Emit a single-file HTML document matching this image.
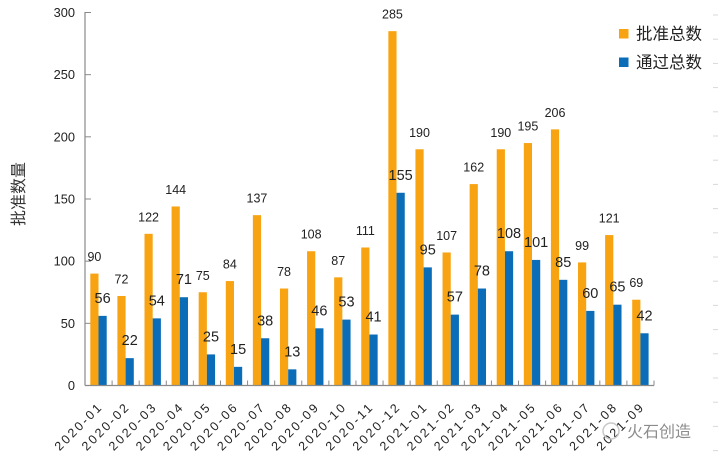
<!DOCTYPE html>
<html><head><meta charset="utf-8"><style>
html,body{margin:0;padding:0;background:#fff;}
svg{display:block;}
text{font-family:"Liberation Sans","Noto Sans CJK SC",sans-serif;fill:#222;}
</style></head><body>
<svg width="718" height="456" viewBox="0 0 718 456" xmlns="http://www.w3.org/2000/svg">
<rect width="718" height="456" fill="#fff"/>
<g stroke="#d8d8d8" stroke-width="1">
<line x1="713" y1="15" x2="718" y2="15"/><line x1="713" y1="39.2" x2="718" y2="39.2"/><line x1="713" y1="63.4" x2="718" y2="63.4"/><line x1="713" y1="87.6" x2="718" y2="87.6"/><line x1="713" y1="111.8" x2="718" y2="111.8"/><line x1="713" y1="136" x2="718" y2="136"/><line x1="713" y1="160.2" x2="718" y2="160.2"/><line x1="713" y1="184.4" x2="718" y2="184.4"/><line x1="713" y1="208.6" x2="718" y2="208.6"/><line x1="713" y1="232.8" x2="718" y2="232.8"/><line x1="713" y1="257" x2="718" y2="257"/><line x1="713" y1="281.2" x2="718" y2="281.2"/><line x1="713" y1="305.4" x2="718" y2="305.4"/><line x1="713" y1="329.6" x2="718" y2="329.6"/><line x1="713" y1="353.8" x2="718" y2="353.8"/><line x1="713" y1="378" x2="718" y2="378"/><line x1="713" y1="402.2" x2="718" y2="402.2"/><line x1="713" y1="426.4" x2="718" y2="426.4"/><line x1="713" y1="450.6" x2="718" y2="450.6"/>
</g>
<!-- y axis -->
<g stroke="#8a8a8a" stroke-width="1">
<line x1="85" y1="12" x2="85" y2="385.5" stroke-width="1.2"/>
<line x1="85" y1="385.5" x2="91" y2="385.5"/><line x1="85" y1="323.33" x2="91" y2="323.33"/><line x1="85" y1="261.17" x2="91" y2="261.17"/><line x1="85" y1="199" x2="91" y2="199"/><line x1="85" y1="136.83" x2="91" y2="136.83"/><line x1="85" y1="74.67" x2="91" y2="74.67"/><line x1="85" y1="12.5" x2="91" y2="12.5"/>
</g>
<g font-size="12.8" text-anchor="end">
<text x="75" y="390">0</text><text x="75" y="327.8">50</text><text x="75" y="265.7">100</text><text x="75" y="203.5">150</text><text x="75" y="141.3">200</text><text x="75" y="79.2">250</text><text x="75" y="17">300</text>
</g>
<!-- orange bars -->
<g fill="#F8A412">
<rect x="90.30" y="273.60" width="8.2" height="111.90"/>
<rect x="117.40" y="295.98" width="8.2" height="89.52"/>
<rect x="144.49" y="233.81" width="8.2" height="151.69"/>
<rect x="171.59" y="206.46" width="8.2" height="179.04"/>
<rect x="198.68" y="292.25" width="8.2" height="93.25"/>
<rect x="225.78" y="281.06" width="8.2" height="104.44"/>
<rect x="252.87" y="215.16" width="8.2" height="170.34"/>
<rect x="279.97" y="288.52" width="8.2" height="96.98"/>
<rect x="307.06" y="251.22" width="8.2" height="134.28"/>
<rect x="334.16" y="277.33" width="8.2" height="108.17"/>
<rect x="361.25" y="247.49" width="8.2" height="138.01"/>
<rect x="388.35" y="31.15" width="8.2" height="354.35"/>
<rect x="415.44" y="149.27" width="8.2" height="236.23"/>
<rect x="442.54" y="252.46" width="8.2" height="133.04"/>
<rect x="469.63" y="184.08" width="8.2" height="201.42"/>
<rect x="496.73" y="149.27" width="8.2" height="236.23"/>
<rect x="523.82" y="143.05" width="8.2" height="242.45"/>
<rect x="550.92" y="129.37" width="8.2" height="256.13"/>
<rect x="578.01" y="262.41" width="8.2" height="123.09"/>
<rect x="605.11" y="235.06" width="8.2" height="150.44"/>
<rect x="632.20" y="299.71" width="8.2" height="85.79"/>
</g>
<!-- blue bars -->
<g fill="#0B6DB7">
<rect x="98.50" y="315.87" width="8.2" height="69.63"/>
<rect x="125.60" y="358.15" width="8.2" height="27.35"/>
<rect x="152.69" y="318.36" width="8.2" height="67.14"/>
<rect x="179.79" y="297.22" width="8.2" height="88.28"/>
<rect x="206.88" y="354.42" width="8.2" height="31.08"/>
<rect x="233.98" y="366.85" width="8.2" height="18.65"/>
<rect x="261.07" y="338.25" width="8.2" height="47.25"/>
<rect x="288.17" y="369.34" width="8.2" height="16.16"/>
<rect x="315.26" y="328.31" width="8.2" height="57.19"/>
<rect x="342.36" y="319.60" width="8.2" height="65.90"/>
<rect x="369.45" y="334.52" width="8.2" height="50.98"/>
<rect x="396.55" y="192.78" width="8.2" height="192.72"/>
<rect x="423.64" y="267.38" width="8.2" height="118.12"/>
<rect x="450.74" y="314.63" width="8.2" height="70.87"/>
<rect x="477.83" y="288.52" width="8.2" height="96.98"/>
<rect x="504.93" y="251.22" width="8.2" height="134.28"/>
<rect x="532.02" y="259.92" width="8.2" height="125.58"/>
<rect x="559.12" y="279.82" width="8.2" height="105.68"/>
<rect x="586.21" y="310.90" width="8.2" height="74.60"/>
<rect x="613.31" y="304.68" width="8.2" height="80.82"/>
<rect x="640.40" y="333.28" width="8.2" height="52.22"/>
</g>
<!-- orange labels -->
<g font-size="12.5" text-anchor="middle">
<text x="94.40" y="261.1">90</text>
<text x="121.50" y="283.5">72</text>
<text x="148.59" y="221.3">122</text>
<text x="175.69" y="194.0">144</text>
<text x="202.78" y="279.8">75</text>
<text x="229.88" y="268.6">84</text>
<text x="256.97" y="202.7">137</text>
<text x="284.07" y="276.0">78</text>
<text x="311.16" y="238.7">108</text>
<text x="338.26" y="264.8">87</text>
<text x="365.35" y="235.0">111</text>
<text x="392.45" y="18.7">285</text>
<text x="419.54" y="136.8">190</text>
<text x="446.64" y="240.0">107</text>
<text x="473.73" y="171.6">162</text>
<text x="500.83" y="136.8">190</text>
<text x="527.92" y="130.6">195</text>
<text x="555.02" y="116.9">206</text>
<text x="582.11" y="249.9">99</text>
<text x="609.21" y="222.6">121</text>
<text x="636.30" y="287.2">69</text>
</g>
<!-- blue labels -->
<g font-size="14.5" text-anchor="middle">
<text x="102.60" y="302.9">56</text>
<text x="129.70" y="345.1">22</text>
<text x="156.79" y="305.4">54</text>
<text x="183.89" y="284.2">71</text>
<text x="210.98" y="341.4">25</text>
<text x="238.08" y="353.9">15</text>
<text x="265.17" y="325.3">38</text>
<text x="292.27" y="356.3">13</text>
<text x="319.36" y="315.3">46</text>
<text x="346.46" y="306.6">53</text>
<text x="373.55" y="321.5">41</text>
<text x="400.65" y="179.8">155</text>
<text x="427.74" y="254.4">95</text>
<text x="454.84" y="301.6">57</text>
<text x="481.93" y="275.5">78</text>
<text x="509.03" y="238.2">108</text>
<text x="536.12" y="246.9">101</text>
<text x="563.22" y="266.8">85</text>
<text x="590.31" y="297.9">60</text>
<text x="617.41" y="291.7">65</text>
<text x="644.50" y="320.3">42</text>
</g>
<!-- x axis -->
<g stroke="#8a8a8a" stroke-width="1">
<line x1="85" y1="385.5" x2="654" y2="385.5" stroke-width="1.2"/>
<line x1="112.10" y1="385.5" x2="112.10" y2="380.5"/><line x1="139.19" y1="385.5" x2="139.19" y2="380.5"/><line x1="166.29" y1="385.5" x2="166.29" y2="380.5"/><line x1="193.38" y1="385.5" x2="193.38" y2="380.5"/><line x1="220.48" y1="385.5" x2="220.48" y2="380.5"/><line x1="247.57" y1="385.5" x2="247.57" y2="380.5"/><line x1="274.67" y1="385.5" x2="274.67" y2="380.5"/><line x1="301.76" y1="385.5" x2="301.76" y2="380.5"/><line x1="328.86" y1="385.5" x2="328.86" y2="380.5"/><line x1="355.95" y1="385.5" x2="355.95" y2="380.5"/><line x1="383.05" y1="385.5" x2="383.05" y2="380.5"/><line x1="410.14" y1="385.5" x2="410.14" y2="380.5"/><line x1="437.24" y1="385.5" x2="437.24" y2="380.5"/><line x1="464.33" y1="385.5" x2="464.33" y2="380.5"/><line x1="491.43" y1="385.5" x2="491.43" y2="380.5"/><line x1="518.52" y1="385.5" x2="518.52" y2="380.5"/><line x1="545.62" y1="385.5" x2="545.62" y2="380.5"/><line x1="572.71" y1="385.5" x2="572.71" y2="380.5"/><line x1="599.81" y1="385.5" x2="599.81" y2="380.5"/><line x1="626.90" y1="385.5" x2="626.90" y2="380.5"/><line x1="654" y1="385.5" x2="654" y2="380.5"/>
</g>
<!-- x labels -->
<g font-size="12.5" text-anchor="end">
<text x="102.05" y="409" textLength="60" lengthAdjust="spacing" transform="rotate(-45 102.05 409)">2020-01</text>
<text x="129.15" y="409" textLength="60" lengthAdjust="spacing" transform="rotate(-45 129.15 409)">2020-02</text>
<text x="156.24" y="409" textLength="60" lengthAdjust="spacing" transform="rotate(-45 156.24 409)">2020-03</text>
<text x="183.34" y="409" textLength="60" lengthAdjust="spacing" transform="rotate(-45 183.34 409)">2020-04</text>
<text x="210.43" y="409" textLength="60" lengthAdjust="spacing" transform="rotate(-45 210.43 409)">2020-05</text>
<text x="237.53" y="409" textLength="60" lengthAdjust="spacing" transform="rotate(-45 237.53 409)">2020-06</text>
<text x="264.62" y="409" textLength="60" lengthAdjust="spacing" transform="rotate(-45 264.62 409)">2020-07</text>
<text x="291.72" y="409" textLength="60" lengthAdjust="spacing" transform="rotate(-45 291.72 409)">2020-08</text>
<text x="318.81" y="409" textLength="60" lengthAdjust="spacing" transform="rotate(-45 318.81 409)">2020-09</text>
<text x="345.91" y="409" textLength="60" lengthAdjust="spacing" transform="rotate(-45 345.91 409)">2020-10</text>
<text x="373.00" y="409" textLength="60" lengthAdjust="spacing" transform="rotate(-45 373.00 409)">2020-11</text>
<text x="400.10" y="409" textLength="60" lengthAdjust="spacing" transform="rotate(-45 400.10 409)">2020-12</text>
<text x="427.19" y="409" textLength="60" lengthAdjust="spacing" transform="rotate(-45 427.19 409)">2021-01</text>
<text x="454.29" y="409" textLength="60" lengthAdjust="spacing" transform="rotate(-45 454.29 409)">2021-02</text>
<text x="481.38" y="409" textLength="60" lengthAdjust="spacing" transform="rotate(-45 481.38 409)">2021-03</text>
<text x="508.48" y="409" textLength="60" lengthAdjust="spacing" transform="rotate(-45 508.48 409)">2021-04</text>
<text x="535.57" y="409" textLength="60" lengthAdjust="spacing" transform="rotate(-45 535.57 409)">2021-05</text>
<text x="562.67" y="409" textLength="60" lengthAdjust="spacing" transform="rotate(-45 562.67 409)">2021-06</text>
<text x="589.76" y="409" textLength="60" lengthAdjust="spacing" transform="rotate(-45 589.76 409)">2021-07</text>
<text x="616.86" y="409" textLength="60" lengthAdjust="spacing" transform="rotate(-45 616.86 409)">2021-08</text>
<text x="643.95" y="409" textLength="60" lengthAdjust="spacing" transform="rotate(-45 643.95 409)">2021-09</text>
</g>
<!-- y title -->
<text x="18" y="200" text-anchor="middle" font-size="16" style="fill:#333" transform="rotate(-90 18 194)">批准数量</text>
<!-- legend -->
<rect x="619" y="29" width="9.5" height="9.5" fill="#F8A412"/>
<text x="636" y="39.5" font-size="16.5">批准总数</text>
<rect x="619" y="57.5" width="9.5" height="9.5" fill="#0B6DB7"/>
<text x="636" y="68" font-size="16.5">通过总数</text>
<!-- watermark -->
<circle cx="611" cy="431" r="8" fill="none" stroke="#c8c8c8" stroke-width="1.5"/>
<text x="627" y="437" font-size="16" style="fill:#8c8c8c">火石创造</text>
</svg>
</body></html>
